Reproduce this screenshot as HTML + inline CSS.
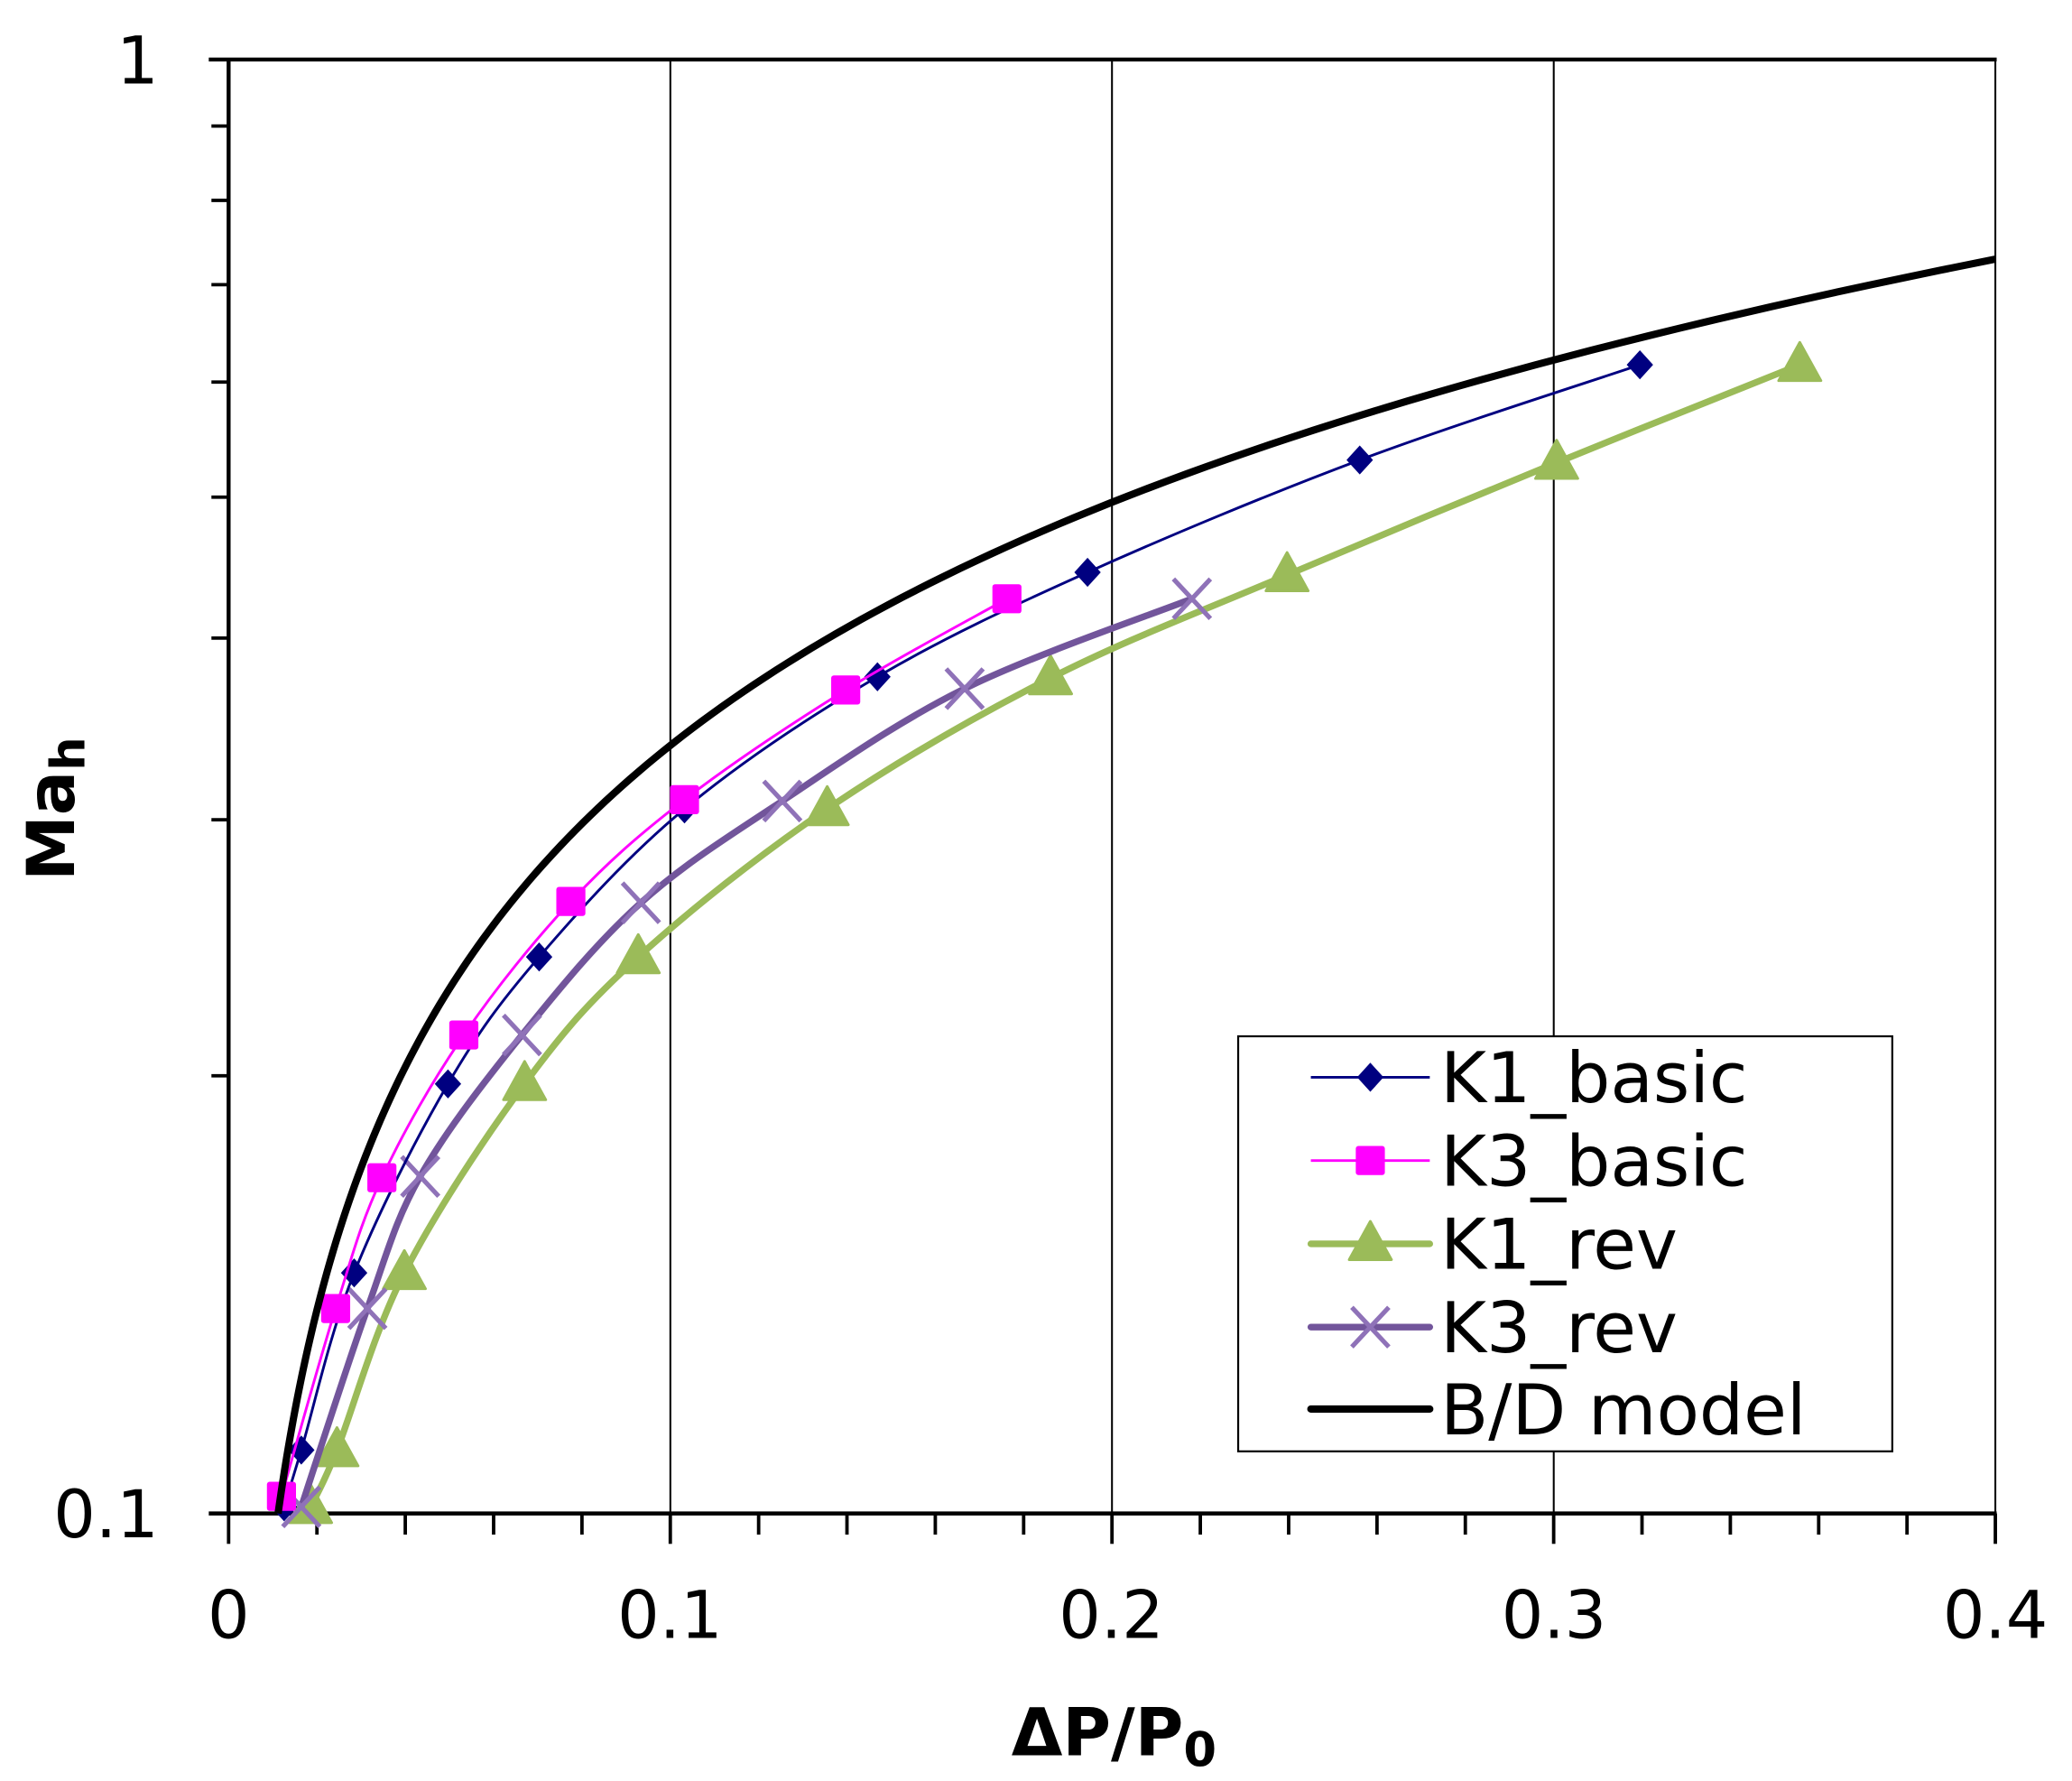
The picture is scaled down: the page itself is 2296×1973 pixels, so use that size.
<!DOCTYPE html>
<html><head><meta charset="utf-8"><style>
html,body{margin:0;padding:0;background:#fff}
svg{display:block}
text{font-family:"DejaVu Sans","Liberation Sans",sans-serif}
</style></head><body>
<svg id="s" width="2296" height="1973" viewBox="0 0 1568 1347.4" preserveAspectRatio="none" xmlns="http://www.w3.org/2000/svg">
<rect width="1568" height="1348" fill="#fff"/>
<g stroke="#000" stroke-width="1.4">
<line x1="507.3" y1="45" x2="507.3" y2="1145"/>
<line x1="841.5" y1="45" x2="841.5" y2="1145"/>
<line x1="1175.8" y1="45" x2="1175.8" y2="1145"/>
<line x1="1510" y1="45" x2="1510" y2="1145"/>
</g>
<g stroke="#000" stroke-width="3">
<line x1="158" y1="45" x2="1511" y2="45"/>
<line x1="158" y1="1145" x2="1511" y2="1145"/>
<line x1="173" y1="44" x2="173" y2="1146"/>
</g>
<g id="ticks" stroke="#000" stroke-width="2.6"></g>
<g font-size="50" fill="#000">
<text x="120" y="63" text-anchor="end">1</text>
<text x="120" y="1163" text-anchor="end">0.1</text>
<text x="173" y="1239" text-anchor="middle">0</text>
<text x="507" y="1239" text-anchor="middle">0.1</text>
<text x="841" y="1239" text-anchor="middle">0.2</text>
<text x="1176" y="1239" text-anchor="middle">0.3</text>
<text x="1510" y="1239" text-anchor="middle">0.4</text>
</g>
<text x="843" y="1328" font-size="50" font-weight="bold" text-anchor="middle">ΔP/P<tspan font-size="36" dy="8">0</tspan></text>
<text transform="translate(56,612) rotate(-90)" font-size="50" font-weight="bold" text-anchor="middle">Ma<tspan font-size="36" dy="8">h</tspan></text>
<g id="series"></g>
<rect x="937" y="784" width="495" height="314" fill="#fff" stroke="#000" stroke-width="1.5"/>
<g id="leg"></g>
<g font-size="53" fill="#000">
<text x="1090" y="834">K1_basic</text>
<text x="1090" y="897">K3_basic</text>
<text x="1090" y="960">K1_rev</text>
<text x="1090" y="1023">K3_rev</text>
<text x="1090" y="1085">B/D model</text>
</g>
</svg>
<script>
var NS="http://www.w3.org/2000/svg";
function el(p,n,a){var e=document.createElementNS(NS,n);for(var k in a)e.setAttribute(k,a[k]);p.appendChild(e);return e;}
var T=document.getElementById('ticks');
for(var i=0;i<=20;i++){var x=173+i*66.85;var major=(i%5==0);el(T,'line',{x1:x,y1:1145,x2:x,y2:major?1168:1161});}
for(var v=2;v<=9;v++){var y=45-Math.log10(v/10)*1100;el(T,'line',{x1:160,y1:y,x2:173,y2:y});}
function smooth(p){var d="M"+p[0][0]+","+p[0][1];for(var i=0;i<p.length-1;i++){var p0=p[i-1]||p[i],p1=p[i],p2=p[i+1],p3=p[i+2]||p2;
var c1=[p1[0]+(p2[0]-p0[0])/6,p1[1]+(p2[1]-p0[1])/6],c2=[p2[0]-(p3[0]-p1[0])/6,p2[1]-(p3[1]-p1[1])/6];
d+=" C"+c1+" "+c2+" "+p2;}return d;}
var S=document.getElementById('series');
function diamond(g,x,y,c){el(g,'polygon',{points:(x)+","+(y-11)+" "+(x+10)+","+y+" "+x+","+(y+11)+" "+(x-10)+","+y,fill:c});}
function square(g,x,y,c){el(g,'rect',{x:x-11,y:y-11,width:22,height:22,fill:c,rx:2});}
function tri(g,x,y,c){el(g,'polygon',{points:x+","+(y-17)+" "+(x+16)+","+(y+12)+" "+(x-16)+","+(y+12),fill:c,stroke:c,"stroke-width":2,"stroke-linejoin":"round"});}
function cross(g,x,y,c){el(g,'path',{d:"M"+(x-14)+","+(y-15)+"L"+(x+14)+","+(y+15)+"M"+(x+14)+","+(y-15)+"L"+(x-14)+","+(y+15),stroke:c,"stroke-width":3.5,fill:"none"});}
var K1rev=[[235,1140],[255,1097],[306,963],[397,820],[483,724],[626,612],[795,513],[974,435],[1178,350],[1362,276]];
var K3rev=[[228,1140],[278,990],[318,890],[395,783],[485,683],[592,606],[730,521],[902,453]];
var K1b=[[215,1140],[228,1097],[268,963],[339,820],[408,724],[518,612],[664,512],[823,433],[1029,348],[1241,276]];
var K3b=[[213,1132],[254,990],[289,891],[351,783],[432,682],[518,605],[640,522],[762,453]];
var BD=[];
var lmEnd=Math.log10(Math.pow(0.4/0.0112,1/1.8)/10);
function pt(lm){var M=Math.pow(10,lm);var xv=0.0112*Math.pow(10*M,1.8);return [(173+xv*3342.5).toFixed(2),(45-lm*1100).toFixed(2)];}
for(var lm=-1;lm<lmEnd;lm+=0.005){BD.push(pt(lm));}
BD.push(pt(lmEnd));
var bdd="M"+BD.map(function(p){return p.join(",");}).join(" L");
el(S,'path',{d:smooth(K1rev),stroke:"#9bbb59","stroke-width":5,fill:"none"});
K1rev.forEach(function(p){tri(S,p[0],p[1],"#9bbb59");});
el(S,'path',{d:smooth(K3rev),stroke:"#72559b","stroke-width":5,fill:"none"});
K3rev.forEach(function(p){cross(S,p[0],p[1],"#8f72b8");});
el(S,'path',{d:smooth(K1b),stroke:"#000080","stroke-width":2,fill:"none"});
K1b.forEach(function(p){diamond(S,p[0],p[1],"#000080");});
el(S,'path',{d:smooth(K3b),stroke:"#ff00ff","stroke-width":2,fill:"none"});
K3b.forEach(function(p){square(S,p[0],p[1],"#ff00ff");});
el(S,'path',{d:bdd,stroke:"#000","stroke-width":5.5,fill:"none","stroke-linejoin":"round"});
var L=document.getElementById('leg');
el(L,'line',{x1:992,y1:815,x2:1082,y2:815,stroke:"#000080","stroke-width":2});diamond(L,1037,815,"#000080");
el(L,'line',{x1:992,y1:878,x2:1082,y2:878,stroke:"#ff00ff","stroke-width":2});square(L,1037,878,"#ff00ff");
el(L,'line',{x1:992,y1:941,x2:1082,y2:941,stroke:"#9bbb59","stroke-width":5,"stroke-linecap":"round"});tri(L,1037,941,"#9bbb59");
el(L,'line',{x1:992,y1:1004,x2:1082,y2:1004,stroke:"#72559b","stroke-width":5,"stroke-linecap":"round"});cross(L,1037,1004,"#8f72b8");
el(L,'line',{x1:992,y1:1066,x2:1082,y2:1066,stroke:"#000","stroke-width":5.5,"stroke-linecap":"round"});
</script>
</body></html>
